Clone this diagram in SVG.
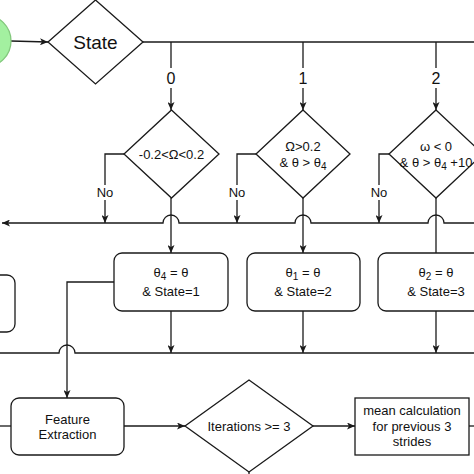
<svg xmlns="http://www.w3.org/2000/svg" width="474" height="474" viewBox="0 0 474 474">
<style>
.s{fill:#fff;stroke:#1a1a1a;stroke-width:1.3}
.c{fill:none;stroke:#1a1a1a;stroke-width:1.3}
.t{font-family:"Liberation Sans",Arial,sans-serif;font-size:13px;fill:#111;text-anchor:middle}
.lb{font-family:"Liberation Sans",Arial,sans-serif;font-size:16px;fill:#111;text-anchor:middle}
.bg{fill:#fff;stroke:none}
</style>
<defs>
<marker id="a" viewBox="0 0 8 7" markerWidth="8" markerHeight="7" refX="8" refY="3.5" orient="auto" markerUnits="userSpaceOnUse">
<path d="M0,0 L8,3.5 L0,7 L2,3.5 Z" fill="#1a1a1a"/>
</marker>
</defs>
<rect width="474" height="474" fill="#fff"/>
<g id="connectors">
<path class="c" d="M11,41 L48,42" marker-end="url(#a)"/>
<path class="c" d="M143,42 H474"/>
<path class="c" d="M171,42 V110" marker-end="url(#a)"/>
<path class="c" d="M303,42 V110" marker-end="url(#a)"/>
<path class="c" d="M436,42 V110" marker-end="url(#a)"/>
<path class="c" d="M124,154 H105 V223" marker-end="url(#a)"/>
<path class="c" d="M257,154 H237 V223" marker-end="url(#a)"/>
<path class="c" d="M389,154 H379 V223" marker-end="url(#a)"/>
<path class="c" d="M474,223 H444 A8,8 0 0 0 428,223 H311 A8,8 0 0 0 295,223 H179 A8,8 0 0 0 163,223 H2" marker-end="url(#a)"/>
<path class="c" d="M171,198 V253" marker-end="url(#a)"/>
<path class="c" d="M303,198 V253" marker-end="url(#a)"/>
<path class="c" d="M436,198 V253"/>
<path class="c" d="M171,311 V353" marker-end="url(#a)"/>
<path class="c" d="M303,311 V353" marker-end="url(#a)"/>
<path class="c" d="M436,311 V353" marker-end="url(#a)"/>
<path class="c" d="M0,353 H59 A8,8 0 0 1 75,353 H474"/>
<path class="c" d="M114,282 H67 V398" marker-end="url(#a)"/>
<path class="c" d="M0,426 H11"/>
<path class="c" d="M124,426 H185" marker-end="url(#a)"/>
<path class="c" d="M312,426 H355" marker-end="url(#a)"/>
<path class="c" d="M469,426 H474"/>
<path class="c" d="M249,471 V474"/>
<rect class="bg" x="163" y="68" width="16" height="20"/>
<text class="lb" x="171" y="84">0</text>
<rect class="bg" x="295" y="68" width="16" height="20"/>
<text class="lb" x="303" y="84">1</text>
<rect class="bg" x="428" y="68" width="16" height="20"/>
<text class="lb" x="436" y="84">2</text>
<rect class="bg" x="96" y="185" width="18" height="15"/>
<text class="t" x="105" y="197">No</text>
<rect class="bg" x="228" y="185" width="18" height="15"/>
<text class="t" x="237" y="197">No</text>
<rect class="bg" x="370" y="185" width="18" height="15"/>
<text class="t" x="379" y="197">No</text>
</g>
<g id="start">
<circle cx="-15" cy="41" r="26" fill="#a3f0a0" stroke="#82c77c" stroke-width="1.3"/>
</g>
<g id="state">
<polygon class="s" points="95.5,0 143,42 95.5,84 48,42"/>
<text class="t" x="95.5" y="49" style="font-size:19px">State</text>
</g>
<g id="cond0">
<polygon class="s" points="171.5,110 219,154 171.5,198 124,154"/>
<text class="t" x="171.5" y="159">-0.2&lt;Ω&lt;0.2</text>
</g>
<g id="cond1">
<polygon class="s" points="303,110 350,154 303,198 256,154"/>
<text class="t" x="303" y="151">Ω&gt;0.2</text>
<text class="t" x="303" y="167">&amp; θ &gt; θ<tspan font-size="10" dy="3">4</tspan></text>
</g>
<g id="cond2">
<polygon class="s" points="436,110 483,154 436,198 389,154"/>
<text class="t" x="436" y="151">ω &lt; 0</text>
<text class="t" x="436" y="167">&amp; θ &gt; θ<tspan font-size="10" dy="3">4</tspan><tspan dy="-3"> +10</tspan></text>
</g>
<g id="box1">
<rect class="s" x="114" y="253" width="114" height="58" rx="8"/>
<text class="t" x="171" y="277">θ<tspan font-size="10" dy="3">4</tspan><tspan dy="-3"> = θ</tspan></text>
<text class="t" x="171" y="296">&amp; State=1</text>
</g>
<g id="box2">
<rect class="s" x="247" y="253" width="113" height="58" rx="8"/>
<text class="t" x="303" y="277">θ<tspan font-size="10" dy="3">1</tspan><tspan dy="-3"> = θ</tspan></text>
<text class="t" x="303" y="296">&amp; State=2</text>
</g>
<g id="box3">
<rect class="s" x="378" y="253" width="116" height="58" rx="8"/>
<text class="t" x="436" y="277">θ<tspan font-size="10" dy="3">2</tspan><tspan dy="-3"> = θ</tspan></text>
<text class="t" x="436" y="296">&amp; State=3</text>
</g>
<g id="leftbox">
<rect class="s" x="-60" y="275" width="75" height="57" rx="8"/>
</g>
<g id="feature">
<rect class="s" x="11" y="398" width="113" height="57" rx="8"/>
<text class="t" x="67.5" y="424">Feature</text>
<text class="t" x="67.5" y="439">Extraction</text>
</g>
<g id="iterations">
<polygon class="s" points="249,380 313,426 249,472 185,426"/>
<text class="t" x="249" y="431">Iterations &gt;= 3</text>
</g>
<g id="mean">
<rect class="s" x="355" y="398" width="114" height="57"/>
<text class="t" x="412" y="415">mean calculation</text>
<text class="t" x="412" y="431">for previous 3</text>
<text class="t" x="412" y="446">strides</text>
</g>
</svg>
